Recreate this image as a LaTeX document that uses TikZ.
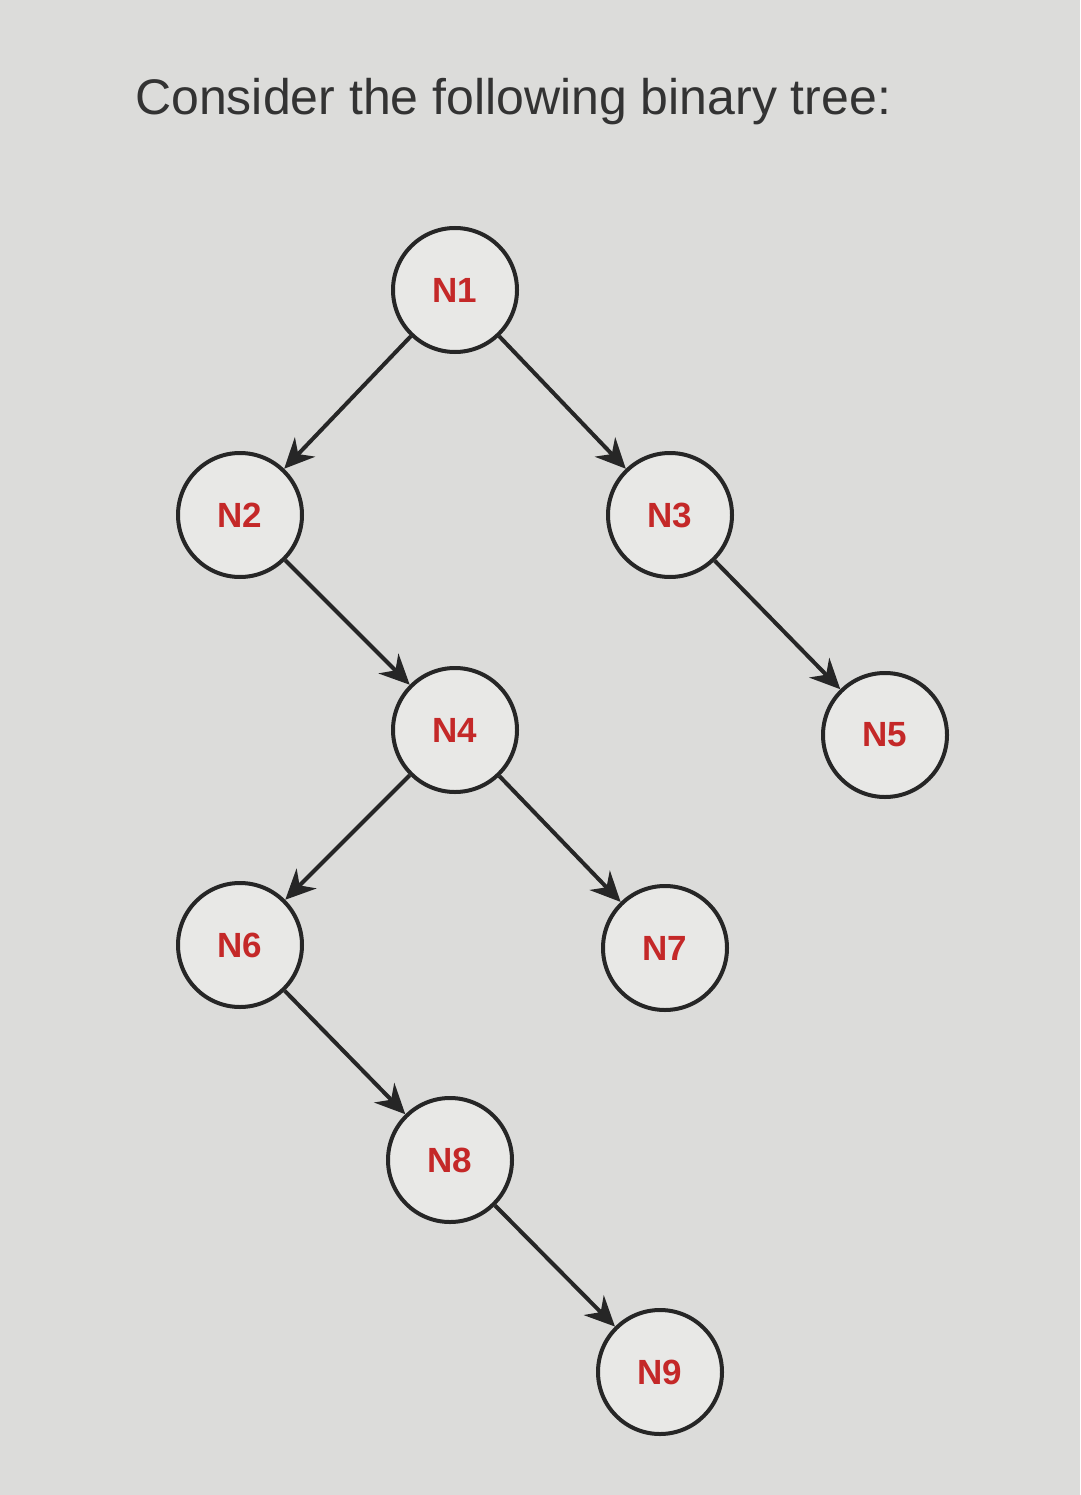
\documentclass[tikz,border=0pt]{standalone}
\usepackage{fontspec}
\setmainfont{Liberation Sans}
\usetikzlibrary{arrows.meta}
\definecolor{bg}{HTML}{DCDCDA}
\definecolor{nodefill}{HTML}{E8E8E6}
\definecolor{lab}{HTML}{C42828}
\tikzset{
  tnode/.style={circle,draw=black!85,line width=4pt,fill=nodefill,minimum size=124pt,inner sep=0pt,
    text=lab,font=\fontsize{35}{40}\selectfont\bfseries},
  edge/.style={draw=black!85,line width=4pt,-{Stealth[length=30pt,width=28pt]}}
}
\begin{document}
\begin{tikzpicture}[x=1pt,y=-1pt]
\fill[bg] (0,0) rectangle (1080,1495);
\useasboundingbox (0,0) rectangle (1080,1495);
\node[anchor=base west,inner sep=0pt,text=black!80,font=\fontsize{50}{56}\selectfont] (title) at (135,115) {Consider the following binary tree:};
\node[tnode] (n1) at (455,290) {N1};
\node[tnode] (n2) at (240,515) {N2};
\node[tnode] (n3) at (670,515) {N3};
\node[tnode] (n4) at (455,730) {N4};
\node[tnode] (n5) at (885,735) {N5};
\node[tnode] (n6) at (240,945) {N6};
\node[tnode] (n7) at (665,948) {N7};
\node[tnode] (n8) at (450,1160) {N8};
\node[tnode] (n9) at (660,1372) {N9};
\draw[edge] (n1) -- (n2);
\draw[edge] (n1) -- (n3);
\draw[edge] (n2) -- (n4);
\draw[edge] (n3) -- (n5);
\draw[edge] (n4) -- (n6);
\draw[edge] (n4) -- (n7);
\draw[edge] (n6) -- (n8);
\draw[edge] (n8) -- (n9);
\end{tikzpicture}
\end{document}
